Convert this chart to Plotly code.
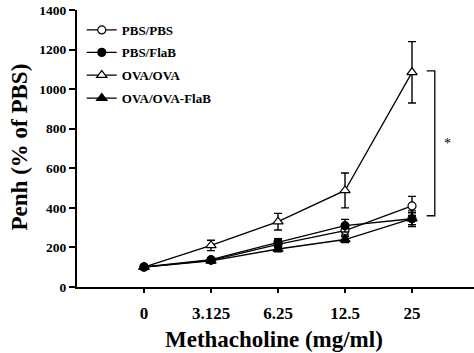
import plotly.graph_objects as go

categories = ["0", "3.125", "6.25", "12.5", "25"]
x_idx = [0, 1, 2, 3, 4]

pbs_pbs = [100, 135, 215, 285, 410]
pbs_pbs_err = [5, 10, 15, 22, 48]
pbs_flab = [102, 138, 226, 310, 345]
pbs_flab_err = [5, 10, 18, 32, 30]
ova_ova = [100, 210, 330, 488, 1085]
ova_ova_err = [5, 26, 42, 88, 155]
ova_ova_flab = [100, 132, 192, 240, 345]
ova_ova_flab_err = [5, 10, 14, 15, 40]

y_ticks = [0, 200, 400, 600, 800, 1000, 1200, 1400]
bracket_top = 1092
bracket_bottom = 360

FONT = "Liberation Serif, Times New Roman, serif"

series = [
    ("PBS/PBS", pbs_pbs, pbs_pbs_err, "circle", "white", 8, "legend"),
    ("PBS/FlaB", pbs_flab, pbs_flab_err, "circle", "black", 8, "legend2"),
    ("OVA/OVA", ova_ova, ova_ova_err, "triangle-up", "white", 9, "legend3"),
    ("OVA/OVA-FlaB", ova_ova_flab, ova_ova_flab_err, "triangle-up", "black", 9, "legend4"),
]

fig = go.Figure()
for name, vals, errs, sym, fill, sz, leg in series:
    fig.add_trace(go.Scatter(
        x=x_idx, y=vals, name=name, mode="lines+markers", legend=leg,
        line=dict(color="black", width=1.3),
        marker=dict(symbol=sym, size=sz, color=fill, line=dict(color="black", width=1.2)),
        error_y=dict(type="data", array=errs, visible=True, color="black", thickness=1.4, width=4),
    ))

fig.add_shape(type="path", xref="x", yref="y",
              path=f"M 4.22 {bracket_top} L 4.34 {bracket_top} L 4.34 {bracket_bottom} L 4.22 {bracket_bottom}",
              line=dict(color="black", width=1.3))
fig.add_annotation(x=4.53, y=(bracket_top + bracket_bottom) / 2, xref="x", yref="y",
                   text="*", showarrow=False, font=dict(family=FONT, size=14, color="black"))

fig.add_annotation(x=-0.146, y=0.504, xref="paper", yref="paper", text="Penh (% of PBS)",
                   textangle=-90, showarrow=False, xanchor="center", yanchor="middle",
                   font=dict(family=FONT, size=23, color="black", weight="bold"))
fig.add_annotation(x=0.496, y=-0.191, xref="paper", yref="paper", text="Methacholine (mg/ml)",
                   showarrow=False, xanchor="center", yanchor="middle",
                   font=dict(family=FONT, size=23, color="black", weight="bold"))

fig.update_xaxes(
    range=[-1, 4.925], tickmode="array", tickvals=x_idx, ticktext=categories,
    showline=True, linecolor="black", linewidth=2, ticks="outside", ticklen=4,
    tickwidth=1.5, tickcolor="black", showgrid=False, zeroline=False,
    tickfont=dict(family=FONT, size=17, color="black", weight="bold"),
    ticklabelstandoff=6,
)
fig.update_yaxes(
    range=[0, 1400], tickmode="array", tickvals=y_ticks,
    showline=True, linecolor="black", linewidth=2, ticks="outside", ticklen=6,
    tickwidth=1.5, tickcolor="black", showgrid=False, zeroline=False,
    tickfont=dict(family=FONT, size=13.5, color="black", weight="bold"),
)

leg_font = dict(family=FONT, size=13, color="black", weight="bold")
def leg(y):
    return dict(x=0.012, y=y, xanchor="left", yanchor="top",
                bgcolor="rgba(0,0,0,0)", font=leg_font)

fig.update_layout(
    width=474, height=353,
    margin=dict(l=77, r=0, t=10, b=66),
    plot_bgcolor="white", paper_bgcolor="white",
    showlegend=True,
    legend=leg(0.982), legend2=leg(0.901), legend3=leg(0.819), legend4=leg(0.736),
)

fig.write_html("out.html")
